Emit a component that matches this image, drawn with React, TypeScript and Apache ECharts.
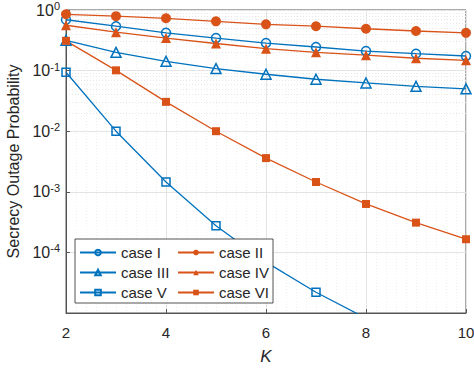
import React, { useEffect, useRef } from "react";
import * as echarts from "echarts";

const K = [2, 3, 4, 5, 6, 7, 8, 9, 10];
const caseI = [0.69, 0.54, 0.42, 0.344, 0.285, 0.245, 0.21, 0.19, 0.174];
const caseII = [0.85, 0.79, 0.73, 0.65, 0.58, 0.54, 0.49, 0.45, 0.42];
const caseIII = [0.316, 0.2, 0.142, 0.108, 0.087, 0.072, 0.0625, 0.055, 0.05];
const caseIV = [0.56, 0.43, 0.344, 0.28, 0.23, 0.2, 0.18, 0.16, 0.148];
const caseV = [0.094, 0.01, 0.00145, 0.000275, 0.000069, 0.000022, 0.0000082, 0.0000035, 0.0000016];
const caseVI = [0.31, 0.101, 0.0305, 0.01, 0.0036, 0.00145, 0.00063, 0.00031, 0.000165];

const BLUE = "#0072BD";
const ORANGE = "#D95319";
const FONT = "Liberation Sans, Arial, Helvetica, sans-serif";
const TXT = "#262626";

export default function App() {
  const ref = useRef<HTMLDivElement>(null);
  useEffect(() => {
    document.body.style.margin = "0";
    const chart = echarts.init(ref.current!, null, { renderer: "svg" });

    const minorLines: any[] = [];
    for (let e = -5; e < 0; e++) {
      for (let m = 2; m <= 9; m++) minorLines.push({ yAxis: m * Math.pow(10, e) });
    }

    const mk = (name: string, data: number[], color: string, symbol: string, size: number, hollow: boolean) => ({
      name,
      type: "line",
      data: K.map((k, i) => [k, data[i]]),
      symbol,
      symbolSize: size,
      clip: true,
      lineStyle: { color, width: 1.3 },
      itemStyle: hollow
        ? { color: "rgba(255,255,255,0)", borderColor: color, borderWidth: 1.5 }
        : { color, borderColor: color, borderWidth: 0 },
      z: 2,
    });

    const series: any[] = [
      mk("case I", caseI, BLUE, "circle", 9, true),
      mk("case II", caseII, ORANGE, "circle", 10, false),
      mk("case III", caseIII, BLUE, "triangle", 10, true),
      mk("case IV", caseIV, ORANGE, "triangle", 10, false),
      mk("case V", caseV, BLUE, "rect", 8, true),
      mk("case VI", caseVI, ORANGE, "rect", 8, false),
    ];
    series[0].markLine = {
      silent: true,
      symbol: ["none", "none"],
      label: { show: false },
      animation: false,
      lineStyle: { color: "#e8e8e8", type: [1, 2], width: 1 },
      data: minorLines,
      z: 0,
    };

    const legendCommon = {
      orient: "vertical",
      top: 245,
      itemWidth: 36,
      itemHeight: 7,
      itemGap: 5,
      padding: 0,
      textStyle: { fontFamily: FONT, fontSize: 15, color: TXT },
      z: 6,
    };

    chart.setOption({
      animation: false,
      backgroundColor: "#fff",
      grid: {
        left: 66,
        right: 8,
        top: 10,
        bottom: 67,
        containLabel: false,
        outerBoundsMode: "none",
        show: true,
        borderColor: "#555",
        borderWidth: 1,
        backgroundColor: "transparent",
      },
      legend: [
        { ...legendCommon, left: 79, data: ["case I", "case III", "case V"] },
        { ...legendCommon, left: 177, data: ["case II", "case IV", "case VI"] },
      ],
      graphic: {
        elements: [
          {
            type: "rect",
            z: 5,
            zlevel: 0,
            shape: { x: 75, y: 239, width: 198, height: 64 },
            style: { fill: "#ffffff", stroke: "#262626", lineWidth: 0.8 },
          },
        ],
      },
      xAxis: {
        type: "value",
        min: 2,
        max: 10,
        interval: 2,
        name: "K",
        nameLocation: "middle",
        nameGap: 35,
        nameTextStyle: { fontFamily: FONT, fontSize: 17, fontStyle: "italic", color: TXT },
        axisLine: { lineStyle: { color: "#555", width: 1 } },
        axisTick: { inside: true, length: 4, lineStyle: { color: "#555" } },
        axisLabel: { fontFamily: FONT, fontSize: 15, color: TXT, margin: 12 },
        splitLine: { show: true, lineStyle: { color: "#e3e3e3", width: 1 } },
        minorTick: { show: false, splitNumber: 10 },
        minorSplitLine: { show: true, lineStyle: { color: "#f0f0f0", type: [1, 2], width: 1 } },
      },
      yAxis: {
        type: "log",
        logBase: 10,
        min: 1e-5,
        max: 1,
        name: "Secrecy Outage Probability",
        nameLocation: "middle",
        nameGap: 42,
        nameTextStyle: { fontFamily: FONT, fontSize: 16, color: TXT },
        axisLine: { show: true, lineStyle: { color: "#555", width: 1 } },
        axisTick: { show: true, inside: true, length: 4, lineStyle: { color: "#555" } },
        axisLabel: {
          fontFamily: FONT,
          color: TXT,
          margin: 6,
          formatter: (v: number) => {
            const e = Math.round(Math.log10(v));
            if (e <= -5) return "";
            return `{b|10}{s|${e}}`;
          },
          rich: {
            b: { fontSize: 16, fontFamily: FONT, color: TXT },
            s: { fontSize: 11, fontFamily: FONT, color: TXT, padding: [0, 0, 8, 0] },
          },
        },
        splitLine: { show: true, lineStyle: { color: "#e3e3e3", width: 1 } },
      },
      series,
    });
    return () => chart.dispose();
  }, []);
  return <div ref={ref} style={{ width: 474, height: 380 }} />;
}
